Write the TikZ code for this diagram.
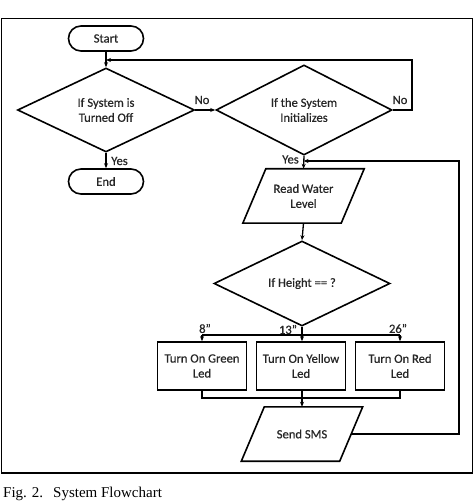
\documentclass[tikz,border=0pt]{standalone}
\usepackage{fontspec}
\setmainfont{Liberation Serif}
\newfontfamily\calfont[FakeBold=0.6]{Carlito}
\usetikzlibrary{shapes.geometric,arrows.meta}
\begin{document}
\begin{tikzpicture}[x=1pt,y=-1pt,
  every node/.style={font=\calfont\fontsize{12.6}{15}\selectfont, text=black!85},
  term/.style={draw=black, rectangle, rounded corners=12.5pt, minimum width=75pt, minimum height=25pt, line width=1.6pt},
  dec/.style={draw=black, diamond, minimum width=177pt, minimum height=84pt, inner sep=0pt, align=center, line width=1.6pt},
  proc/.style={draw=black, rectangle, minimum width=89pt, minimum height=48pt, align=center, line width=1.6pt},
  io/.style={rectangle, minimum width=121pt, minimum height=54pt, align=center},
  ioedge/.style={line width=1.6pt},
  flow/.style={line width=1.3pt, -{Stealth[length=5pt,width=4pt]}},
  link/.style={line width=1.3pt},
  lbl/.style={inner sep=0pt}
]
\useasboundingbox (0,0) rectangle (474,502);
\draw[line width=1.8pt] (1.5,18.5) rectangle (472.5,473);

% nodes
\node[term] (start) at (106,38.5) {Start};
\node[dec] (d1) at (106,110) {If System is\\Turned Off};
\node[dec, minimum width=176pt] (d2) at (304,110) {If the System\\Initializes};
\node[term] (end) at (106,181.5) {End};
\node[io] (read) at (303.5,196) {Read Water\\Level};
\draw[ioedge] ([xshift=23pt]read.north west) -- (read.north east) -- ([xshift=-23pt]read.south east) -- (read.south west) -- cycle;
\node[dec, minimum width=176pt, minimum height=85pt] (d3) at (302,283.5) {If Height == ?};
\node[proc] (green) at (202,366) {Turn On Green\\Led};
\node[proc] (yellow) at (301,366) {Turn On Yellow\\Led};
\node[proc] (red) at (400,366) {Turn On Red\\Led};
\node[io] (send) at (302,434) {Send SMS};
\draw[ioedge] ([xshift=23pt]send.north west) -- (send.north east) -- ([xshift=-23pt]send.south east) -- (send.south west) -- cycle;

% caption
\node[font=\rmfamily\fontsize{15}{17}\selectfont, text=black, anchor=base west, inner sep=0pt] (cap) at (3,497) {Fig. 2.\hspace{10pt}System Flowchart};

% coordinates
\coordinate (j1) at (106,60);
\coordinate (n2a) at (412,110);
\coordinate (n2b) at (412,60);
\coordinate (j2) at (303.5,161);
\coordinate (br) at (302,335);
\coordinate (brg) at (202,335);
\coordinate (brr) at (400,335);
\coordinate (mg) at (202,398);
\coordinate (mr) at (400,398);
\coordinate (my) at (302,398);
\coordinate (sr) at ([xshift=-11.5pt]send.east);
\coordinate (ra) at (459,434);
\coordinate (rb) at (459,161);

% connectors
\draw[flow] (start) -- (d1.north);
\draw[flow] (d1.east) -- (d2.west);
\draw[flow] (d2.east) -- (n2a) -- (n2b) -- (j1);
\draw[flow] (d1.south) -- (end.north);
\draw[flow] (d2.south) -- (read.north);
\draw[flow] (sr) -- (ra) -- (rb) -- (j2);
\draw[flow] (read.south) -- (d3.north);
\draw[link] (d3.south) -- (br);
\draw[link] (brg) -- (brr);
\draw[flow] (brg) -- (green.north);
\draw[flow] (br) -- (br |- yellow.north);
\draw[flow] (brr) -- (red.north);
\draw[link] (green.south) -- (mg) -- (mr) -- (red.south);
\draw[link] (yellow.south -| my) -- (my);
\draw[flow] (my) -- (send.north);

% labels
\node[lbl] (lno1) at (202,100) {No};
\node[lbl] (lno2) at (400,100) {No};
\node[lbl] (lyes1) at (119.5,161) {Yes};
\node[lbl] (lyes2) at (290.5,159.5) {Yes};
\node[lbl] (l8) at (205,328.5) {8”};
\node[lbl] (l13) at (288,329.5) {13”};
\node[lbl] (l26) at (398,328.5) {26”};
\end{tikzpicture}
\end{document}
